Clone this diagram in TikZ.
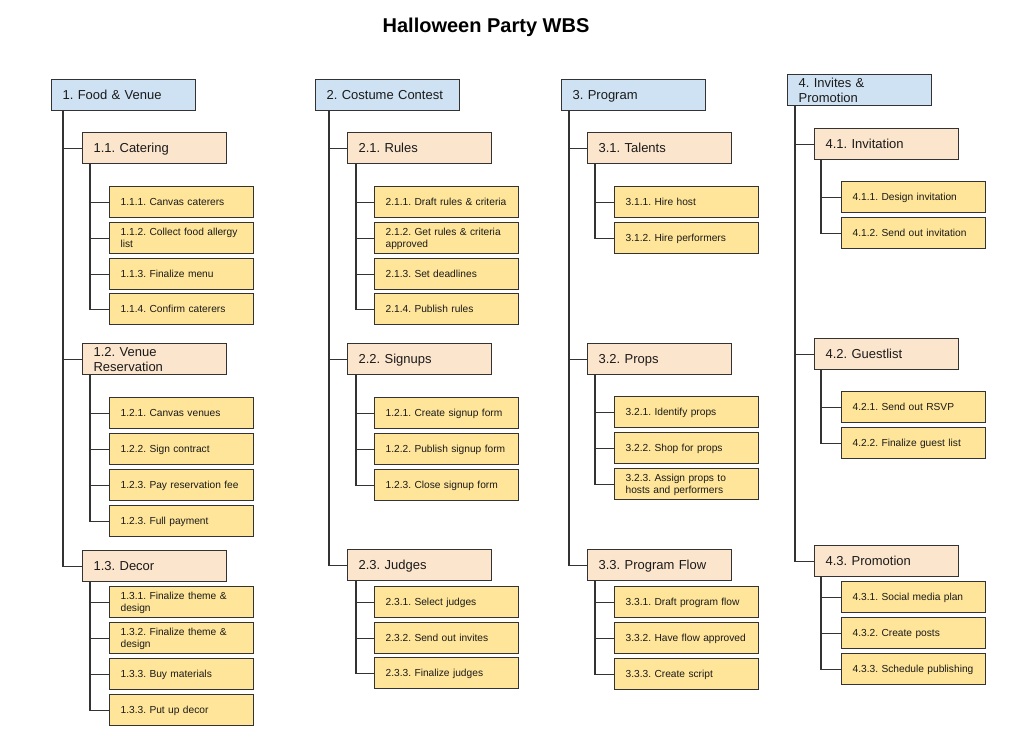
\documentclass[tikz,border=0pt]{standalone}
\usepackage{fontspec}
\setmainfont{Liberation Sans}
\usepackage{tikz}
\definecolor{topfill}{HTML}{CFE2F3}
\definecolor{midfill}{HTML}{FCE5CD}
\definecolor{leaffill}{HTML}{FFE599}
\definecolor{edge}{HTML}{333333}
\definecolor{ink}{HTML}{1A1A1A}
\hyphenpenalty=10000
\exhyphenpenalty=10000
\frenchspacing
\newcommand{\bigstrut}{\rule[-2.8pt]{0pt}{14.9pt}}
\newcommand{\smallstrut}{\rule[-2.2pt]{0pt}{11.7pt}}

\begin{document}
\begin{tikzpicture}[x=1pt, y=-1pt,
        every node/.style = {shape=rectangle, draw=edge, line width=1.2pt,
                             anchor=north west, align=left, text=ink,
                             text width=122pt, inner xsep=11pt, inner ysep=0.5pt},
        wbstop/.style  = {fill=topfill, minimum height=31pt,
                          font=\fontsize{13}{15}\selectfont,
                          execute at begin node=\bigstrut,
                          execute at end node=\bigstrut},
        wbsmid/.style  = {fill=midfill, minimum height=31pt,
                          font=\fontsize{13}{15}\selectfont,
                          execute at begin node=\bigstrut,
                          execute at end node=\bigstrut},
        wbsleaf/.style = {fill=leaffill, minimum height=31pt,
                          font=\fontsize{10.2}{12}\selectfont,
                          execute at begin node=\smallstrut,
                          execute at end node=\smallstrut},
        link/.style    = {draw=edge, line width=1.1pt}]
    \useasboundingbox[fill=white] (0,0) rectangle (1024,741);
    \node[draw=none, anchor=center, align=center, text width=, inner sep=0pt,
          font=\fontsize{20}{24}\selectfont\bfseries, text=black]
          (title) at (486,27) {Halloween Party WBS};

    % 1. Food & Venue
    \node[wbstop]  (f)   at (51,79)   {1. Food \& Venue};
    \node[wbsmid]  (f1)  at (82,132)  {1.1. Catering};
    \node[wbsleaf] (f11) at (109,186) {1.1.1. Canvas caterers};
    \node[wbsleaf] (f12) at (109,222) {1.1.2. Collect food allergy\\list};
    \node[wbsleaf] (f13) at (109,258) {1.1.3. Finalize menu};
    \node[wbsleaf] (f14) at (109,293) {1.1.4. Confirm caterers};
    \node[wbsmid]  (f2)  at (82,343)  {1.2. Venue\\Reservation};
    \node[wbsleaf] (f21) at (109,397) {1.2.1. Canvas venues};
    \node[wbsleaf] (f22) at (109,433) {1.2.2. Sign contract};
    \node[wbsleaf] (f23) at (109,469) {1.2.3. Pay reservation fee};
    \node[wbsleaf] (f24) at (109,505) {1.2.3. Full payment};
    \node[wbsmid]  (f3)  at (82,550)  {1.3. Decor};
    \node[wbsleaf] (f31) at (109,586) {1.3.1. Finalize theme \&\\design};
    \node[wbsleaf] (f32) at (109,622) {1.3.2. Finalize theme \&\\design};
    \node[wbsleaf] (f33) at (109,658) {1.3.3. Buy materials};
    \node[wbsleaf] (f34) at (109,694) {1.3.3. Put up decor};

    % 2. Costume Contest
    \node[wbstop]  (c)   at (315,79)  {2. Costume Contest};
    \node[wbsmid]  (c1)  at (347,132) {2.1. Rules};
    \node[wbsleaf] (c11) at (374,186) {2.1.1. Draft rules \& criteria};
    \node[wbsleaf] (c12) at (374,222) {2.1.2. Get rules \& criteria\\approved};
    \node[wbsleaf] (c13) at (374,258) {2.1.3. Set deadlines};
    \node[wbsleaf] (c14) at (374,293) {2.1.4. Publish rules};
    \node[wbsmid]  (c2)  at (347,343) {2.2. Signups};
    \node[wbsleaf] (c21) at (374,397) {1.2.1. Create signup form};
    \node[wbsleaf] (c22) at (374,433) {1.2.2. Publish signup form};
    \node[wbsleaf] (c23) at (374,469) {1.2.3. Close signup form};
    \node[wbsmid]  (c3)  at (347,549) {2.3. Judges};
    \node[wbsleaf] (c31) at (374,586) {2.3.1. Select judges};
    \node[wbsleaf] (c32) at (374,622) {2.3.2. Send out invites};
    \node[wbsleaf] (c33) at (374,657) {2.3.3. Finalize judges};

    % 3. Program
    \node[wbstop]  (p)   at (561,79)  {3. Program};
    \node[wbsmid]  (p1)  at (587,132) {3.1. Talents};
    \node[wbsleaf] (p11) at (614,186) {3.1.1. Hire host};
    \node[wbsleaf] (p12) at (614,222) {3.1.2. Hire performers};
    \node[wbsmid]  (p2)  at (587,343) {3.2. Props};
    \node[wbsleaf] (p21) at (614,396) {3.2.1. Identify props};
    \node[wbsleaf] (p22) at (614,432) {3.2.2. Shop for props};
    \node[wbsleaf] (p23) at (614,468) {3.2.3. Assign props to\\hosts and performers};
    \node[wbsmid]  (p3)  at (587,549) {3.3. Program Flow};
    \node[wbsleaf] (p31) at (614,586) {3.3.1. Draft program flow};
    \node[wbsleaf] (p32) at (614,622) {3.3.2. Have flow approved};
    \node[wbsleaf] (p33) at (614,658) {3.3.3. Create script};

    % 4. Invites & Promotion
    \node[wbstop]  (v)   at (787,74)  {4. Invites \&\\Promotion};
    \node[wbsmid]  (v1)  at (814,128) {4.1. Invitation};
    \node[wbsleaf] (v11) at (841,181) {4.1.1. Design invitation};
    \node[wbsleaf] (v12) at (841,217) {4.1.2. Send out invitation};
    \node[wbsmid]  (v2)  at (814,338) {4.2. Guestlist};
    \node[wbsleaf] (v21) at (841,391) {4.2.1. Send out RSVP};
    \node[wbsleaf] (v22) at (841,427) {4.2.2. Finalize guest list};
    \node[wbsmid]  (v3)  at (814,545) {4.3. Promotion};
    \node[wbsleaf] (v31) at (841,581) {4.3.1. Social media plan};
    \node[wbsleaf] (v32) at (841,617) {4.3.2. Create posts};
    \node[wbsleaf] (v33) at (841,653) {4.3.3. Schedule publishing};

    % connectors
    \foreach \kid in {f1,f2,f3}
        \draw[link] ([xshift=12pt]f.south west) |- (\kid.west);
    \foreach \kid in {f11,f12,f13,f14}
        \draw[link] ([xshift=8pt]f1.south west) |- (\kid.west);
    \foreach \kid in {f21,f22,f23,f24}
        \draw[link] ([xshift=8pt]f2.south west) |- (\kid.west);
    \foreach \kid in {f31,f32,f33,f34}
        \draw[link] ([xshift=8pt]f3.south west) |- (\kid.west);

    \foreach \kid in {c1,c2,c3}
        \draw[link] ([xshift=14pt]c.south west) |- (\kid.west);
    \foreach \kid in {c11,c12,c13,c14}
        \draw[link] ([xshift=9pt]c1.south west) |- (\kid.west);
    \foreach \kid in {c21,c22,c23}
        \draw[link] ([xshift=9pt]c2.south west) |- (\kid.west);
    \foreach \kid in {c31,c32,c33}
        \draw[link] ([xshift=9pt]c3.south west) |- (\kid.west);

    \foreach \kid in {p1,p2,p3}
        \draw[link] ([xshift=8pt]p.south west) |- (\kid.west);
    \foreach \kid in {p11,p12}
        \draw[link] ([xshift=8pt]p1.south west) |- (\kid.west);
    \foreach \kid in {p21,p22,p23}
        \draw[link] ([xshift=8pt]p2.south west) |- (\kid.west);
    \foreach \kid in {p31,p32,p33}
        \draw[link] ([xshift=8pt]p3.south west) |- (\kid.west);

    \foreach \kid in {v1,v2,v3}
        \draw[link] ([xshift=8pt]v.south west) |- (\kid.west);
    \foreach \kid in {v11,v12}
        \draw[link] ([xshift=7pt]v1.south west) |- (\kid.west);
    \foreach \kid in {v21,v22}
        \draw[link] ([xshift=7pt]v2.south west) |- (\kid.west);
    \foreach \kid in {v31,v32,v33}
        \draw[link] ([xshift=7pt]v3.south west) |- (\kid.west);
\end{tikzpicture}
\end{document}
